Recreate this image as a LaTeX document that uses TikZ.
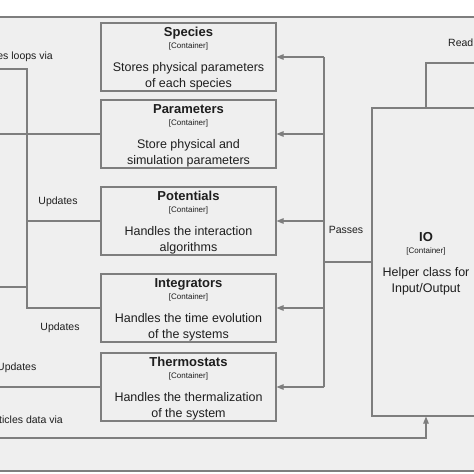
\documentclass[tikz,border=0pt]{standalone}
\usepackage{fontspec}
\setmainfont{Liberation Sans}
\usepackage{tikz}
\usetikzlibrary{arrows.meta,positioning,calc}
\usepackage{xcolor}

\definecolor{panelgray}{HTML}{EFEFEF}
\definecolor{linegray}{HTML}{7E7E7E}
\definecolor{textdark}{HTML}{1E1E1E}

\newcommand{\boxtitle}[1]{\rule{0pt}{13.5pt}{\fontsize{13}{15}\selectfont\bfseries #1}\\[-4.5pt]{\fontsize{8}{9}\selectfont [Container]}\\[7.5pt]}

\begin{document}
\begin{tikzpicture}[
    x=1pt, y=-1pt,
    box/.style={rectangle, draw=linegray, line width=1.1pt, fill=panelgray, text=textdark, align=center, minimum width=175pt, minimum height=68pt, inner sep=0pt, font=\fontsize{12.5}{16}\selectfont},
    iobox/.style={box, minimum width=108pt, minimum height=308pt},
    lbl/.style={text=textdark, inner sep=0pt, font=\fontsize{10.5}{12}\selectfont},
    line/.style={draw=linegray, line width=1.1pt},
    arrow/.style={line, -{Triangle[length=7pt,width=5.5pt]}}
]
\useasboundingbox (0,0) rectangle (474,474);
\fill[white] (0,0) rectangle (474,474);
\filldraw[fill=panelgray, draw=linegray, line width=1.1pt] (-2,17) rectangle (476,471);

% Containers
\node[box] (species) at (188.5,57) {\boxtitle{Species}Stores physical parameters\\of each species};
\node[box] (parameters) at (188.5,134) {\boxtitle{Parameters}Store physical and\\simulation parameters};
\node[box] (potentials) at (188.5,221) {\boxtitle{Potentials}Handles the interaction\\algorithms};
\node[box] (integrators) at (188.5,308) {\boxtitle{Integrators}Handles the time evolution\\of the systems};
\node[box] (thermostats) at (188.5,387) {\boxtitle{Thermostats}Handles the thermalization\\of the system};

% IO
\node[iobox] (io) at (426,262) {\boxtitle{IO}Helper class for\\Input/Output};

% Bus lines
\coordinate (trunk) at (324,0);
\coordinate (lbus) at (27,0);
\coordinate (loopsin) at (-2,69);
\coordinate (paramin) at (-2,134);
\coordinate (updin) at (-2,287);
\coordinate (thermin) at (-2,387);
\coordinate (datain) at (-2,438);
\coordinate (readout) at (476,63);

% Passes
\draw[line] (io.west) -- (io.west -| trunk);
\draw[line] (species.east -| trunk) -- (thermostats.east -| trunk);
\foreach \n in {species,parameters,potentials,integrators,thermostats}
    \draw[arrow] (\n.east -| trunk) -- (\n.east);
\node[lbl] (passlbl) at (346,230) {Passes};

% Updates
\draw[line] (loopsin) -| (integrators.west -| lbus) -- (integrators.west);
\draw[line] (potentials.west -| lbus) -- (potentials.west);
\draw[line] (updin) -- (updin -| lbus);
\draw[line] (paramin) -- (parameters.west);
\draw[line] (thermin) -- (thermostats.west);
\node[lbl, anchor=east] (loopslbl) at (53,57) {es loops via};
\node[lbl] (upda) at (58,202) {Updates};
\node[lbl] (updb) at (60,328) {Updates};
\node[lbl, anchor=west] (updc) at (-3,368) {Updates};

% Data in / out
\draw[arrow] (datain) -| (io.south);
\node[lbl, anchor=east] (datalbl) at (63,420) {ticles data via};
\draw[line] (io.north) |- (readout);
\node[lbl, anchor=west] (readlbl) at (448,43) {Read};

\end{tikzpicture}
\end{document}
